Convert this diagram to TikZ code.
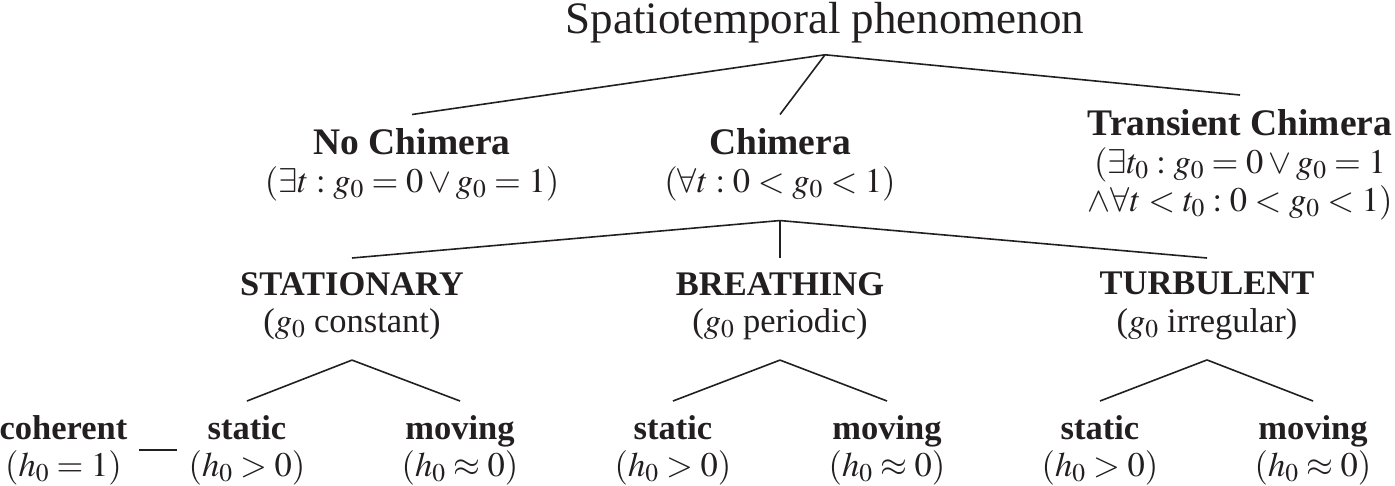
\RequirePackage{fix-cm}
\documentclass[tikz,border=0pt]{standalone}
\usepackage{mathptmx}
\usepackage[no-math]{fontspec}
\setmainfont{Liberation Serif}
\definecolor{ink}{HTML}{231F20}
\newcommand{\fml}{\fontsize{34.5}{38}\selectfont}
\begin{document}
\begin{tikzpicture}[x=1pt,y=-1pt,
  lvltwo/.style={font=\fontsize{37.5}{38}\selectfont, align=center, anchor=north,
                 inner xsep=11.5pt, inner ysep=14pt, text=ink},
  lvlthree/.style={lvltwo, font=\fontsize{34.5}{37.5}\selectfont},
  branch/.style={draw=ink, line width=1.6pt}]
\useasboundingbox (0,0) rectangle (1395,485);

\node[font=\fontsize{45}{50}\selectfont, anchor=base, inner ysep=12pt, text=ink] (title) at (825,33) {Spatiotemporal phenomenon};

\node[lvltwo] (nc) at (412,114.5) {\textbf{No Chimera}\\{\fml$(\exists t: g_0=0\vee g_0=1)$}};
\node[lvltwo] (ch) at (780,114.5) {\textbf{Chimera}\\{\fml$(\forall t: 0<g_0<1)$}};
\node[lvltwo] (tc) at (1240,95) {\textbf{Transient Chimera}\\{\fml$(\exists t_0: g_0=0\vee g_0=1$}\\{\fml$\wedge\forall t<t_0: 0<g_0<1)$}};

\node[lvlthree] (st) at (352,258) {\textbf{STATIONARY}\\($g_0$ constant)};
\node[lvlthree] (br) at (780,258) {\textbf{BREATHING}\\($g_0$ periodic)};
\node[lvlthree] (tu) at (1207,258) {\textbf{TURBULENT}\\($g_0$ irregular)};

\node[lvlthree] (coh) at (63.5,401) {\textbf{coherent}\\$(h_0=1)$};
\node[lvlthree] (sa) at (247,401) {\textbf{static}\\$(h_0>0)$};
\node[lvlthree] (ma) at (460,401) {\textbf{moving}\\$(h_0\approx 0)$};
\node[lvlthree] (sb) at (673,401) {\textbf{static}\\$(h_0>0)$};
\node[lvlthree] (mb) at (887,401) {\textbf{moving}\\$(h_0\approx 0)$};
\node[lvlthree] (sc) at (1100,401) {\textbf{static}\\$(h_0>0)$};
\node[lvlthree] (mc) at (1313,401) {\textbf{moving}\\$(h_0\approx 0)$};

\draw[branch] (title.south) -- (nc.north);
\draw[branch] (title.south) -- (ch.north);
\draw[branch] (title.south) -- (tc.north);

\draw[branch] ([yshift=-5pt]ch.south) -- (st.north);
\draw[branch] ([yshift=-5pt]ch.south) -- (br.north);
\draw[branch] ([yshift=-5pt]ch.south) -- (tu.north);

\draw[branch] ([yshift=-6pt]st.south) -- (sa.north);
\draw[branch] ([yshift=-6pt]st.south) -- (ma.north);
\draw[branch] ([yshift=-6pt]br.south) -- (sb.north);
\draw[branch] ([yshift=-6pt]br.south) -- (mb.north);
\draw[branch] ([yshift=-6pt]tu.south) -- (sc.north);
\draw[branch] ([yshift=-6pt]tu.south) -- (mc.north);

\draw[branch] (coh.east) -- (sa.west);
\end{tikzpicture}
\end{document}
